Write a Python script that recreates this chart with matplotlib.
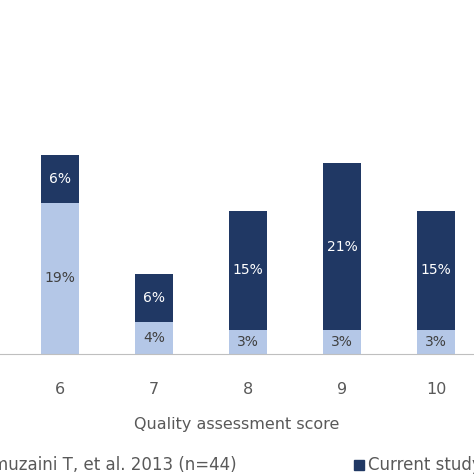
import matplotlib
matplotlib.use("Agg")
import matplotlib.pyplot as plt
from matplotlib.patches import Rectangle

categories = [6, 7, 8, 9, 10]
prev_study = [19, 4, 3, 3, 3]
current_study = [6, 6, 15, 21, 15]
prev_label = "Almuzaini T, et al. 2013 (n=44)"
cur_label = "Current study 2019 (n=33)"

dark = "#203864"
light = "#B4C7E7"

fig = plt.figure(figsize=(4.74, 4.74), dpi=100)
ax = fig.add_axes([0, 1 - 354/474, 1, 354/474])
ax.bar(categories, prev_study, width=0.40, color=light)
ax.bar(categories, current_study, width=0.40, bottom=prev_study, color=dark)
for c, p, q in zip(categories, prev_study, current_study):
    ax.text(c, p/2, f"{p}%", ha="center", va="center", fontsize=10, color="#404040")
    ax.text(c, p + q/2, f"{q}%", ha="center", va="center", fontsize=10, color="white")
ax.set_xlim(5.362, 10.404)
ax.set_ylim(0, 44.5)
for s in ["top", "right", "left"]:
    ax.spines[s].set_visible(False)
ax.spines["bottom"].set_color("#BFBFBF")
ax.set_yticks([])
ax.set_xticks(categories)
ax.tick_params(axis="x", length=0, labelsize=11.5, colors="#595959", pad=20)

fig.text(237/474, 1 - 425/474, "Quality assessment score", ha="center", va="center", fontsize=11.5, color="#595959")
fig.patches.append(Rectangle((-32/474, 1 - 470/474), 10/474, 10/474, transform=fig.transFigure, color=light))
fig.text(237/474, 1 - 465/474, prev_label, ha="right", va="center", fontsize=12, color="#595959")
fig.patches.append(Rectangle((354/474, 1 - 470/474), 10/474, 10/474, transform=fig.transFigure, color=dark))
fig.text(368/474, 1 - 465/474, cur_label, ha="left", va="center", fontsize=12, color="#595959")

fig.savefig("out.png", dpi=100)
